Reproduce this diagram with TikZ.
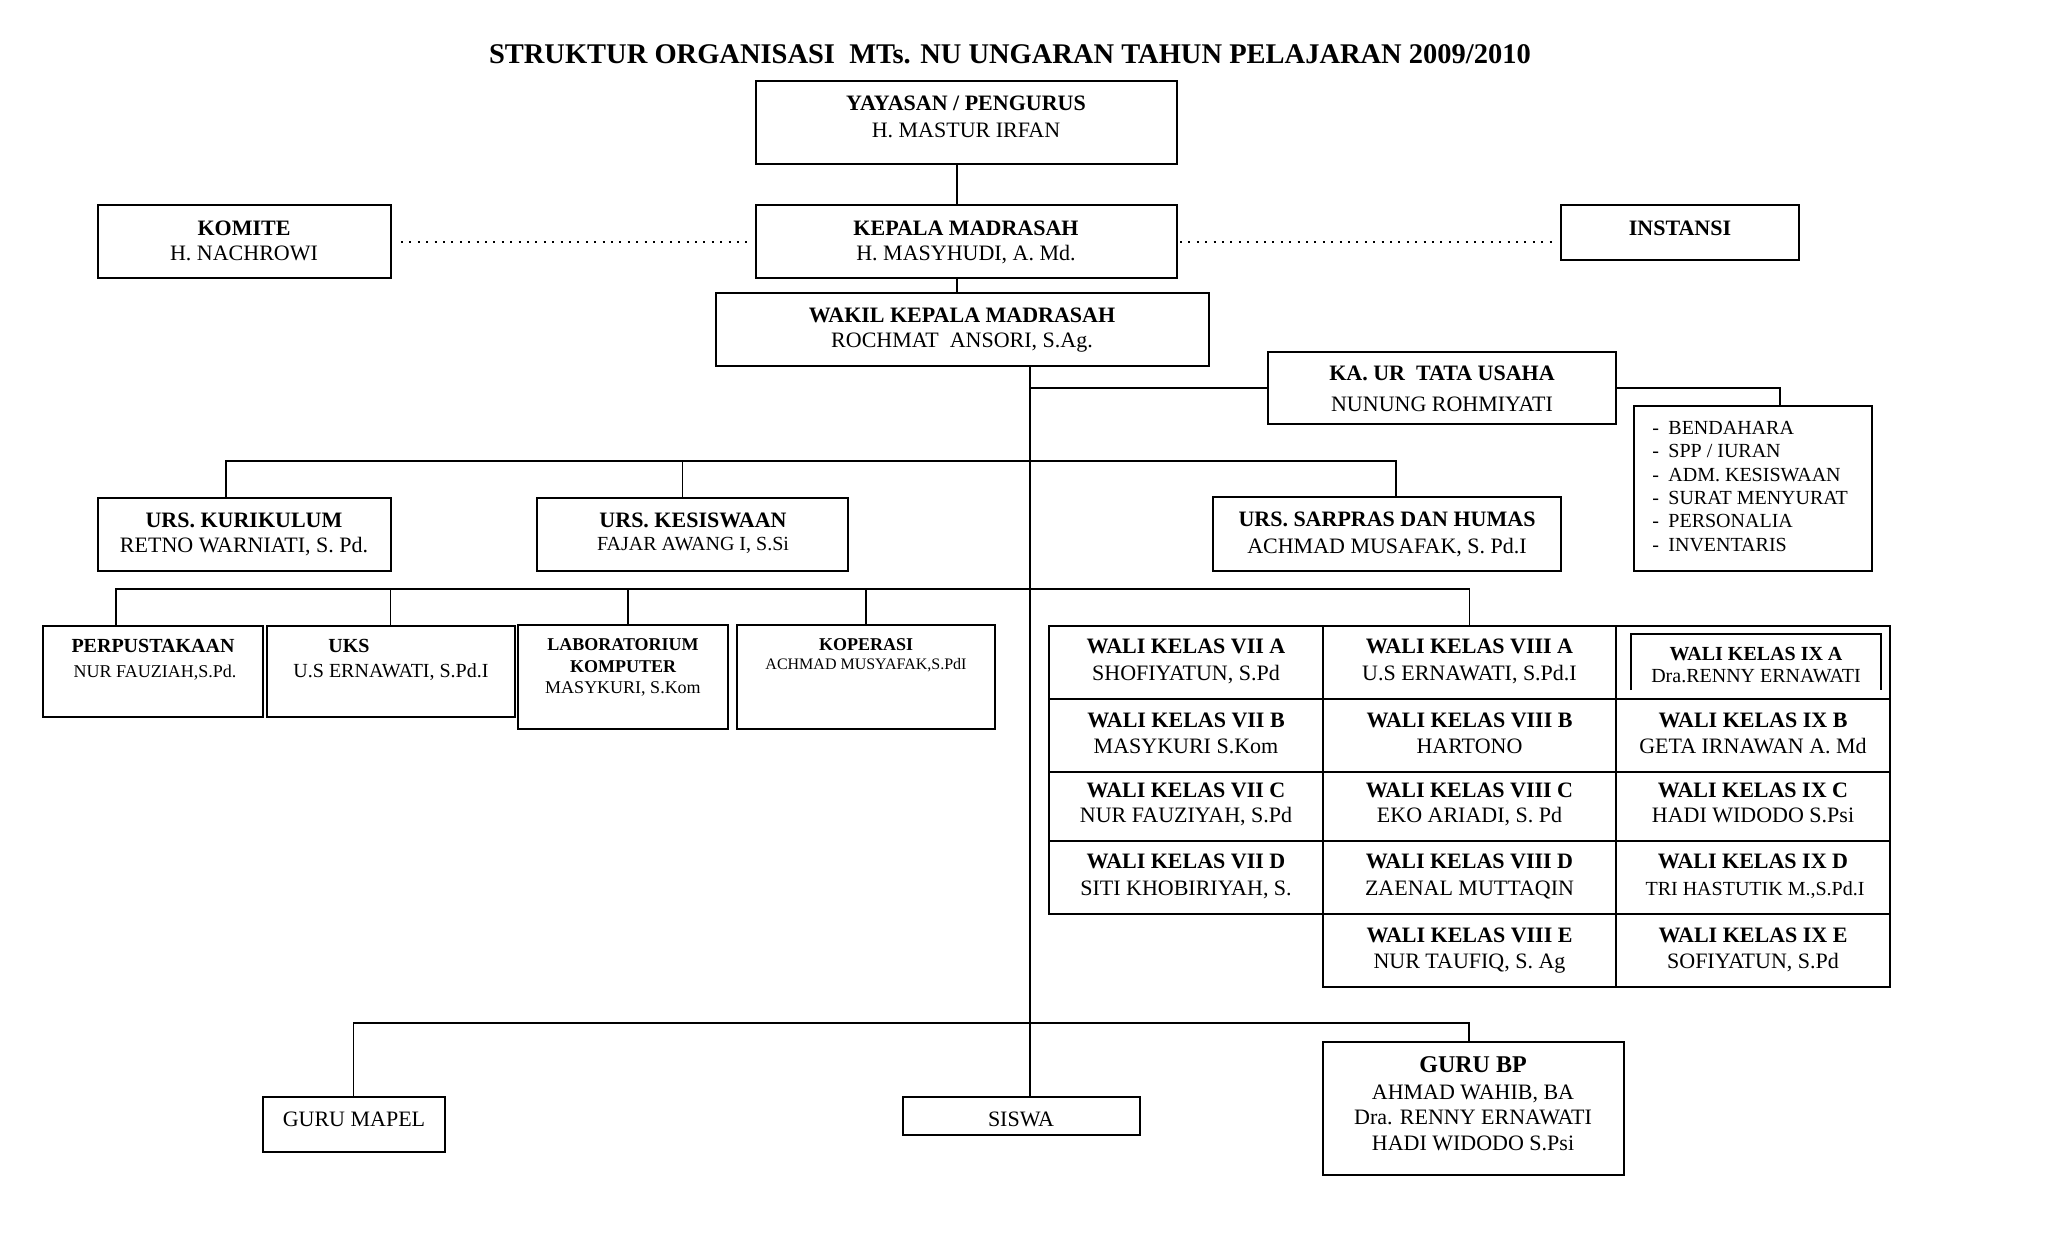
\documentclass[tikz,border=0pt]{standalone}
\usepackage{fontspec}
\setmainfont{Liberation Serif}
\usetikzlibrary{fit}
\newcommand\mybox[5]{\coordinate (#1-a) at (#2,#3); \coordinate (#1-b) at (#4,#5); \node[box, fit=(#1-a)(#1-b)] (#1) {};}
\begin{document}
\begin{tikzpicture}[x=0.5pt,y=-0.5pt,
 box/.style={draw, line width=1pt, inner sep=0pt},
 conn/.style={line width=0.7pt},
 dot/.style={line width=1pt, dash pattern=on 1pt off 3.2pt},
 t/.style={anchor=base, inner sep=0pt},
 tl/.style={anchor=base west, inner sep=0pt},
 b14/.style={t, font=\fontsize{14.25}{16}\selectfont\bfseries},
 b12/.style={t, font=\fontsize{12}{14}\selectfont\bfseries},
 b11/.style={t, font=\fontsize{11}{13}\selectfont\bfseries},
 r11/.style={t, font=\fontsize{11}{13}\selectfont},
 b10/.style={t, font=\fontsize{10}{12}\selectfont\bfseries},
 r10/.style={t, font=\fontsize{10}{12}\selectfont},
 b9/.style={t, font=\fontsize{9}{11}\selectfont\bfseries},
 r9/.style={t, font=\fontsize{9}{11}\selectfont},
 r8/.style={t, font=\fontsize{8}{10}\selectfont},
 li/.style={tl, font=\fontsize{10}{12}\selectfont}]
\useasboundingbox (0,0) rectangle (2048,1243);

\node[b14] (title) at (1010,63) {STRUKTUR ORGANISASI\ \ MTs. NU UNGARAN TAHUN PELAJARAN 2009/2010};

% top level
\mybox{yay}{756}{81}{1177}{164}
\node[b11] (yay1) at (966,110) {YAYASAN / PENGURUS};
\node[r11] (yay2) at (966,137) {H. MASTUR IRFAN};

\mybox{kom}{98}{205}{391}{278}
\node[b11] (kom1) at (244,235) {KOMITE};
\node[r11] (kom2) at (244,260) {H. NACHROWI};

\mybox{kep}{756}{205}{1177}{278}
\node[b11] (kep1) at (966,235) {KEPALA MADRASAH};
\node[r11] (kep2) at (966,260) {H. MASYHUDI, A. Md.};

\mybox{ins}{1561}{205}{1799}{260}
\node[b11] (ins1) at (1680,235) {INSTANSI};

\mybox{wak}{716}{293}{1209}{366}
\node[b11] (wak1) at (962,322) {WAKIL KEPALA MADRASAH};
\node[r11] (wak2) at (962,347) {ROCHMAT\ \ ANSORI, S.Ag.};

\mybox{tu}{1268}{352}{1616}{424}
\node[b11] (tu1) at (1442,380) {KA. UR\ \ TATA USAHA};
\node[r11] (tu2) at (1442,411) {NUNUNG ROHMIYATI};

\mybox{lst}{1634}{406}{1872}{571}
\node[li] (d1) at (1652,434) {-}; \node[li] (l1) at (1668,434) {BENDAHARA};
\node[li] (d2) at (1652,457) {-}; \node[li] (l2) at (1668,457) {SPP / IURAN};
\node[li] (d3) at (1652,481) {-}; \node[li] (l3) at (1668,481) {ADM. KESISWAAN};
\node[li] (d4) at (1652,504) {-}; \node[li] (l4) at (1668,504) {SURAT MENYURAT};
\node[li] (d5) at (1652,527) {-}; \node[li] (l5) at (1668,527) {PERSONALIA};
\node[li] (d6) at (1652,551) {-}; \node[li] (l6) at (1668,551) {INVENTARIS};

% urusan
\mybox{kur}{98}{498}{391}{571}
\node[b11] (kur1) at (244,527) {URS. KURIKULUM};
\node[r11] (kur2) at (244,552) {RETNO WARNIATI, S. Pd.};

\mybox{kes}{537}{498}{848}{571}
\node[b11] (kes1) at (693,527) {URS. KESISWAAN};
\node[r10] (kes2) at (693,550) {FAJAR AWANG I, S.Si};

\mybox{sar}{1213}{497}{1561}{571}
\node[b11] (sar1) at (1387,526) {URS. SARPRAS DAN HUMAS};
\node[r11] (sar2) at (1387,553) {ACHMAD MUSAFAK, S. Pd.I};

% units
\mybox{per}{43}{626}{263}{717}
\node[b10] (per1) at (153,652) {PERPUSTAKAAN};
\node[r9] (per2) at (155,677) {NUR FAUZIAH,S.Pd.};

\mybox{uks}{266.5}{626}{515}{717}
\node[b10] (uks1) at (349,652) {UKS};
\node[r10] (uks2) at (391,677) {U.S ERNAWATI, S.Pd.I};

\mybox{lab}{518}{625}{728}{729}
\node[b9] (lab1) at (623,650) {LABORATORIUM};
\node[b9] (lab2) at (623,672) {KOMPUTER};
\node[r9] (lab3) at (623,693) {MASYKURI, S.Kom};

\mybox{kop}{737}{625}{995}{729}
\node[b9] (kop1) at (866,650) {KOPERASI};
\node[r8] (kop2) at (866,669) {ACHMAD MUSYAFAK,S.PdI};

% wali kelas grid
\mybox{c7a}{1049}{626}{1323}{699}
\node[b11] (c7a1) at (1186,653) {WALI KELAS VII A};
\node[r11] (c7a2) at (1186,680) {SHOFIYATUN, S.Pd};
\mybox{c8a}{1323}{626}{1616}{699}
\node[b11] (c8a1) at (1469.5,653) {WALI KELAS VIII A};
\node[r11] (c8a2) at (1469.5,680) {U.S ERNAWATI, S.Pd.I};
\mybox{c9a}{1616}{626}{1890}{699}
\draw[line width=0.8pt] (1631,690) -- (1631,634) -- (1881,634) -- (1881,690);
\node[b10] (c9a1) at (1756,660) {WALI KELAS IX A};
\node[r10] (c9a2) at (1756,682) {Dra.RENNY ERNAWATI};

\mybox{c7b}{1049}{699}{1323}{772}
\node[b11] (c7b1) at (1186,727) {WALI KELAS VII B};
\node[r11] (c7b2) at (1186,753) {MASYKURI S.Kom};
\mybox{c8b}{1323}{699}{1616}{772}
\node[b11] (c8b1) at (1469.5,727) {WALI KELAS VIII B};
\node[r11] (c8b2) at (1469.5,753) {HARTONO};
\mybox{c9b}{1616}{699}{1890}{772}
\node[b11] (c9b1) at (1753,727) {WALI KELAS IX B};
\node[r11] (c9b2) at (1753,753) {GETA IRNAWAN A. Md};

\mybox{c7c}{1049}{772}{1323}{841}
\node[b11] (c7c1) at (1186,797) {WALI KELAS VII C};
\node[r11] (c7c2) at (1186,822) {NUR FAUZIYAH, S.Pd};
\mybox{c8c}{1323}{772}{1616}{841}
\node[b11] (c8c1) at (1469.5,797) {WALI KELAS VIII C};
\node[r11] (c8c2) at (1469.5,822) {EKO ARIADI, S. Pd};
\mybox{c9c}{1616}{772}{1890}{841}
\node[b11] (c9c1) at (1753,797) {WALI KELAS IX C};
\node[r11] (c9c2) at (1753,822) {HADI WIDODO S.Psi};

\mybox{c7d}{1049}{841}{1323}{914}
\node[b11] (c7d1) at (1186,868) {WALI KELAS VII D};
\node[r11] (c7d2) at (1186,895) {SITI KHOBIRIYAH, S.};
\mybox{c8d}{1323}{841}{1616}{914}
\node[b11] (c8d1) at (1469.5,868) {WALI KELAS VIII D};
\node[r11] (c8d2) at (1469.5,895) {ZAENAL MUTTAQIN};
\mybox{c9d}{1616}{841}{1890}{914}
\node[b11] (c9d1) at (1753,868) {WALI KELAS IX D};
\node[r10] (c9d2) at (1755,895) {TRI HASTUTIK M.,S.Pd.I};

\mybox{c8e}{1323}{914}{1616}{987}
\node[b11] (c8e1) at (1469.5,942) {WALI KELAS VIII E};
\node[r11] (c8e2) at (1469.5,968) {NUR TAUFIQ, S. Ag};
\mybox{c9e}{1616}{914}{1890}{987}
\node[b11] (c9e1) at (1753,942) {WALI KELAS IX E};
\node[r11] (c9e2) at (1753,968) {SOFIYATUN, S.Pd};

% bottom
\mybox{mapel}{262.5}{1097}{445}{1152}
\node[r11] (mapel1) at (354,1126) {GURU MAPEL};
\mybox{siswa}{902.5}{1097}{1140}{1135}
\node[r11] (siswa1) at (1021,1126) {SISWA};
\mybox{bp}{1323}{1042}{1624}{1175}
\node[b12] (bp1) at (1473,1072) {GURU BP};
\node[r11] (bp2) at (1473,1099) {AHMAD WAHIB, BA};
\node[r11] (bp3) at (1473,1124) {Dra. RENNY ERNAWATI};
\node[r11] (bp4) at (1473,1150) {HADI WIDODO S.Psi};

% connectors
\draw[conn] (957,0 |- yay.south) -- (957,0 |- kep.north);
\draw[conn] (957,0 |- kep.south) -- (957,0 |- wak.north);
\coordinate (insL) at (kep.east -| ins.west);
\draw[dot] ([xshift=4.5pt]kom.east) -- ([xshift=-2pt]kep.west);
\draw[dot] ([xshift=1pt]kep.east) -- ([xshift=-2pt]insL);

\coordinate (trTop) at (1030,0 |- wak.south);
\coordinate (trBot) at (1030,0 |- siswa.north);
\draw[conn] (trTop) -- (trBot);
\draw[conn] (1030,0 |- tu.west) -- (tu.west);
\draw[conn] (tu.east) -| (1780,0 |- lst.north);

\coordinate (bus1R) at (1396,461);
\coordinate (bus1M) at (682.5,461);
\draw[conn] (226,0 |- kur.north) |- (bus1R) -- (1396,0 |- sar.north);
\draw[conn] (bus1M) -- (682.5,0 |- kes.north);

\coordinate (bus2R) at (1469.5,589);
\draw[conn] (116,0 |- per.north) |- (bus2R) -- (c8a.north);
\draw[conn] (390.6,589) -- (390.6,0 |- uks.north);
\draw[conn] (628,589) -- (628,0 |- lab.north);
\draw[conn] (866,589) -- (kop.north);

\coordinate (bus3R) at (1469,1023);
\draw[conn] (mapel.north) |- (bus3R) -- (1469,0 |- bp.north);
\end{tikzpicture}
\end{document}
